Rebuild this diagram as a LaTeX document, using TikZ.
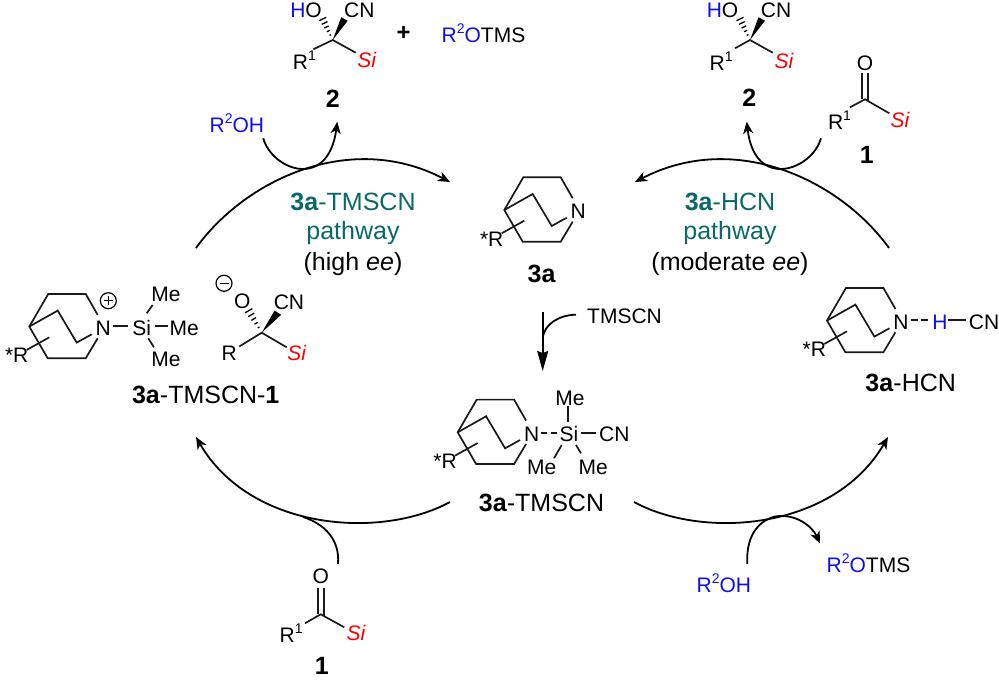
\documentclass[tikz,border=0pt]{standalone}
\usepackage{fontspec}
\setmainfont{Liberation Sans}
\usetikzlibrary{arrows.meta}
\definecolor{tealtxt}{RGB}{10,104,104}
\definecolor{bluetxt}{RGB}{15,15,235}
\newcommand{\supr}[1]{\raisebox{0.45em}{\fontsize{14}{14}\selectfont #1}}
\newcommand{\bicyc}[3]{%
  \begin{scope}[shift={(#2,#3)}]
    \node[atom] (#1N) at (0,0) {N};
    \draw[bond] (-5.6,-13.4) -- (-17.6,-34.4) -- (-55,-34.4) -- (-74,-1.7) -- (-55.6,30) -- (-17.6,30) -- (-5.6,10);
    \draw[bond] (-74,-1.7) -- (-45.6,-17.7) -- (-26.6,14.3) -- (-11.6,6);
    \draw[bond] (-76.6,21.6) -- (-54,9);
    \node[atom] (#1R) at (-86.6,27.3) {*R};
  \end{scope}}
\newcommand{\stereo}[5]{% C x, C y, hash end dx dy, wedge end
  \begin{scope}[shift={(#1,#2)}]
    \foreach \t in {0.24,0.43,0.62,0.81,1.0}
      \draw[line width=1.3pt] ({\t*(#3)-\t*3.7*(#4)/22},{\t*(#4)+\t*3.7*(#3)/22}) -- ({\t*(#3)+\t*3.7*(#4)/22},{\t*(#4)-\t*3.7*(#3)/22});
    \fill #5 -- (0,0) -- cycle;
  \end{scope}}
\tikzset{
  atom/.style={inner sep=0pt,font=\fontsize{21}{25}\selectfont,text=black},
  label/.style={inner sep=0pt,font=\fontsize{25}{30}\selectfont,text=black},
  pathlabel/.style={label,text=tealtxt},
  siatom/.style={atom,text=red,font=\fontsize{21}{25}\selectfont\itshape},
  blueatom/.style={atom,text=bluetxt},
  bond/.style={line width=1.7pt,line join=miter,draw=black!90},
  dashbond/.style={bond,dash pattern=on 6.5pt off 3.5pt},
  cyclearc/.style={line width=1.8pt,-{Stealth[length=12pt,width=10pt,inset=3.5pt]}},
  sidearc/.style={line width=1.8pt},
  sidearrow/.style={line width=1.8pt,-{Stealth[length=12pt,width=10pt,inset=3.5pt]}},
  bigarrow/.style={line width=1.8pt,-{Stealth[length=20pt,width=11pt,inset=2pt]}}
}
\begin{document}
\begin{tikzpicture}[x=1pt,y=-1pt]
\useasboundingbox (0,0) rectangle (999,680);

% quinuclidine units
\bicyc{a}{578.3}{211.7}
\node[label] (lbla) at (541.7,274) {\textbf{3a}};
\bicyc{l}{103.3}{328.3}
\bicyc{c}{531.7}{434}
\bicyc{r}{901}{322.3}

% 3a-TMSCN-1
\node[circle,draw,line width=1.2pt,minimum size=16pt,inner sep=0pt] (plus) at (108.3,300.7) {};
\draw[line width=1.3pt] (103.8,300.7) -- (112.8,300.7) (108.3,296.2) -- (108.3,305.2);
\node[atom] (lSi) at (141.7,328.3) {Si};
\draw[bond] (113.3,326) -- (128.3,326);
\node[atom] (lMe1) at (166,294.3) {Me};
\node[atom] (lMe2) at (184.3,328.3) {Me};
\node[atom] (lMe3) at (166,359) {Me};
\draw[bond] (155,326) -- (167.7,326);
\draw[bond] (146.7,313.3) -- (152.7,305);
\draw[bond] (148.3,338.3) -- (154,347.3);
\node[circle,draw,line width=1.2pt,minimum size=16pt,inner sep=0pt] (minus) at (224,283.3) {};
\draw[line width=1.3pt] (219.5,283.3) -- (228.5,283.3);
\node[atom] (lO) at (242.3,301.7) {O};
\node[atom] (lCN) at (289,302.3) {CN};
\stereo{261.7}{332.7}{-13}{-22}{(12.8,-22) -- (19.5,-18)}
\node[atom] (lRr) at (229.3,353.3) {R};
\node[siatom] (lSii) at (296.7,353.3) {Si};
\draw[bond] (239.3,346.5) -- (261.7,332.7) -- (286.7,347.3);
\node[label] (lbll) at (205.7,395) {\textbf{3a}-TMSCN-\textbf{1}};

% 3a-TMSCN
\draw[dashbond] (540.7,433.3) -- (557.3,433.3);
\node[atom] (cSi) at (569,434) {Si};
\draw[bond] (580.7,433.3) -- (595.7,433.3);
\node[atom] (cCN) at (614.3,434) {CN};
\node[atom] (cMe1) at (570,398.3) {Me};
\node[atom] (cMe2) at (541.7,467.3) {Me};
\node[atom] (cMe3) at (593.3,467.3) {Me};
\draw[bond] (568.3,406) -- (568.3,421.7);
\draw[bond] (561.7,445) -- (554,458.3);
\draw[bond] (576,445) -- (581,453.3);
\node[label] (lblc) at (541.5,503) {\textbf{3a}-TMSCN};

% 3a-HCN
\draw[dashbond] (911,320) -- (928.3,320);
\node[atom,text=bluetxt] (rH) at (940,322.3) {H};
\draw[bond] (948.3,320) -- (965.7,320);
\node[atom] (rCN) at (984,322.3) {CN};
\node[label] (lblr) at (910.7,382.7) {\textbf{3a}-HCN};

% 2, top left
\node[atom,anchor=east] (tlO) at (322,10) {\textcolor{bluetxt}{H}O};
\node[atom] (tlCN) at (359.3,10) {CN};
\stereo{332.7}{40}{-10}{-21}{(8.5,-22.7) -- (15,-19.3)}
\node[atom,anchor=west] (tlR) at (292.7,60) {R\supr{1}};
\node[siatom] (tlSi) at (366.7,60) {Si};
\draw[bond] (313.3,49.3) -- (332.7,40) -- (355.7,52.7);
\node[label] (lbl2l) at (332.7,98.3) {\textbf{2}};
\node[atom,font=\fontsize{24}{24}\selectfont\bfseries] (plusm) at (403.7,33.5) {+};
\node[atom,anchor=west] (tlOTMS) at (441.5,33.3) {\textcolor{bluetxt}{R\supr{2}O}TMS};
\node[atom,anchor=west] (tlROH) at (209.5,123.3) {\textcolor{bluetxt}{R\supr{2}OH}};

% 2, top right
\node[atom,anchor=east] (trO) at (738.5,10) {\textcolor{bluetxt}{H}O};
\node[atom] (trCN) at (776,10) {CN};
\stereo{750}{40}{-10}{-21}{(8.5,-22.7) -- (15,-19.3)}
\node[atom,anchor=west] (trR) at (709.5,61) {R\supr{1}};
\node[siatom] (trSi) at (784,61) {Si};
\draw[bond] (735,48.3) -- (750,40) -- (772.7,52.7);
\node[label] (lbl2r) at (749.3,97.7) {\textbf{2}};

% 1, top right
\node[atom] (trkO) at (865,63.3) {O};
\node[atom,anchor=west] (trkR) at (827.8,120) {R\supr{1}};
\node[siatom] (trkSi) at (900,120) {Si};
\draw[bond] (850,107.3) -- (865,99.3) -- (889.3,113.3);
\draw[bond] (862.3,73) -- (862.3,99.3) (868.3,73) -- (868.3,101);
\node[label] (lbl1r) at (866.7,155) {\textbf{1}};

% 1, bottom
\node[atom] (bkO) at (320.7,576.7) {O};
\node[atom,anchor=west] (bkR) at (279.5,633) {R\supr{1}};
\node[siatom] (bkSi) at (356,633) {Si};
\draw[bond] (305,623.3) -- (320.7,614.3) -- (344.3,627.3);
\draw[bond] (317.7,588) -- (317.7,614.3) (323.7,588) -- (323.7,616);
\node[label] (lbl1b) at (321.7,666) {\textbf{1}};

% pathway labels
\node[pathlabel] (pl1) at (353,202) {\textbf{3a}-TMSCN};
\node[pathlabel] (pl2) at (353,233) {pathway};
\node[label] (pl3) at (353,264) {(high \textit{ee})};
\node[pathlabel] (pr1) at (730,202) {\textbf{3a}-HCN};
\node[pathlabel] (pr2) at (730,233) {pathway};
\node[label] (pr3) at (730,264) {(moderate \textit{ee})};

% small labels of the other steps
\node[atom] (tmscn) at (624.5,316) {TMSCN};
\node[atom,anchor=west] (brROH) at (696.5,583) {\textcolor{bluetxt}{R\supr{2}OH}};
\node[atom,anchor=west] (brOTMS) at (826.5,563) {\textcolor{bluetxt}{R\supr{2}O}TMS};

% free ends of the arcs
\coordinate (arcTLs) at (196,248);
\coordinate (arcTLe) at (450,182);
\coordinate (arcTRs) at (889,248);
\coordinate (arcTRe) at (635,182);
\coordinate (arcBLs) at (450,502);
\coordinate (arcBLe) at (196,437);
\coordinate (arcBRs) at (634,502);
\coordinate (arcBRe) at (888,437);

% catalytic cycle
\draw[cyclearc] (arcTLs) .. controls (245,180) and (350,130) .. (arcTLe);
\draw[cyclearc] (arcTRs) .. controls (840,180) and (735,130) .. (arcTRe);
\draw[cyclearc] (arcBLs) .. controls (380,540) and (250,530) .. (arcBLe);
\draw[cyclearc] (arcBRs) .. controls (704,540) and (834,530) .. (arcBRe);

% side arrows
\coordinate (s1a) at (263.3,138.3);
\coordinate (s1t) at (337.3,121.7);
\draw[sidearrow] (s1a) .. controls (272,170) and (328,191) .. (s1t);
\coordinate (s2a) at (821,138.3);
\coordinate (s2t) at (746.7,121.7);
\draw[sidearrow] (s2a) .. controls (812,170) and (755,191) .. (s2t);
\coordinate (s3a) at (338,564);
\coordinate (s3b) at (303,517);
\draw[sidearc] (s3a) .. controls (340,540) and (325,524) .. (s3b);
\coordinate (s4a) at (747.3,564);
\coordinate (s4t) at (820,543.5);
\draw[sidearrow] (s4a) .. controls (746,540) and (755,522) .. (775,516.5) .. controls (795,513) and (812,526) .. (s4t);
\coordinate (s5a) at (542.7,311.7);
\coordinate (s5t) at (542.7,371);
\draw[bigarrow] (s5a) -- (s5t);
\coordinate (s6a) at (576,314.7);
\coordinate (s6b) at (542.7,338);
\draw[sidearc] (s6a) .. controls (558,315) and (544,325) .. (s6b);
\end{tikzpicture}
\end{document}
